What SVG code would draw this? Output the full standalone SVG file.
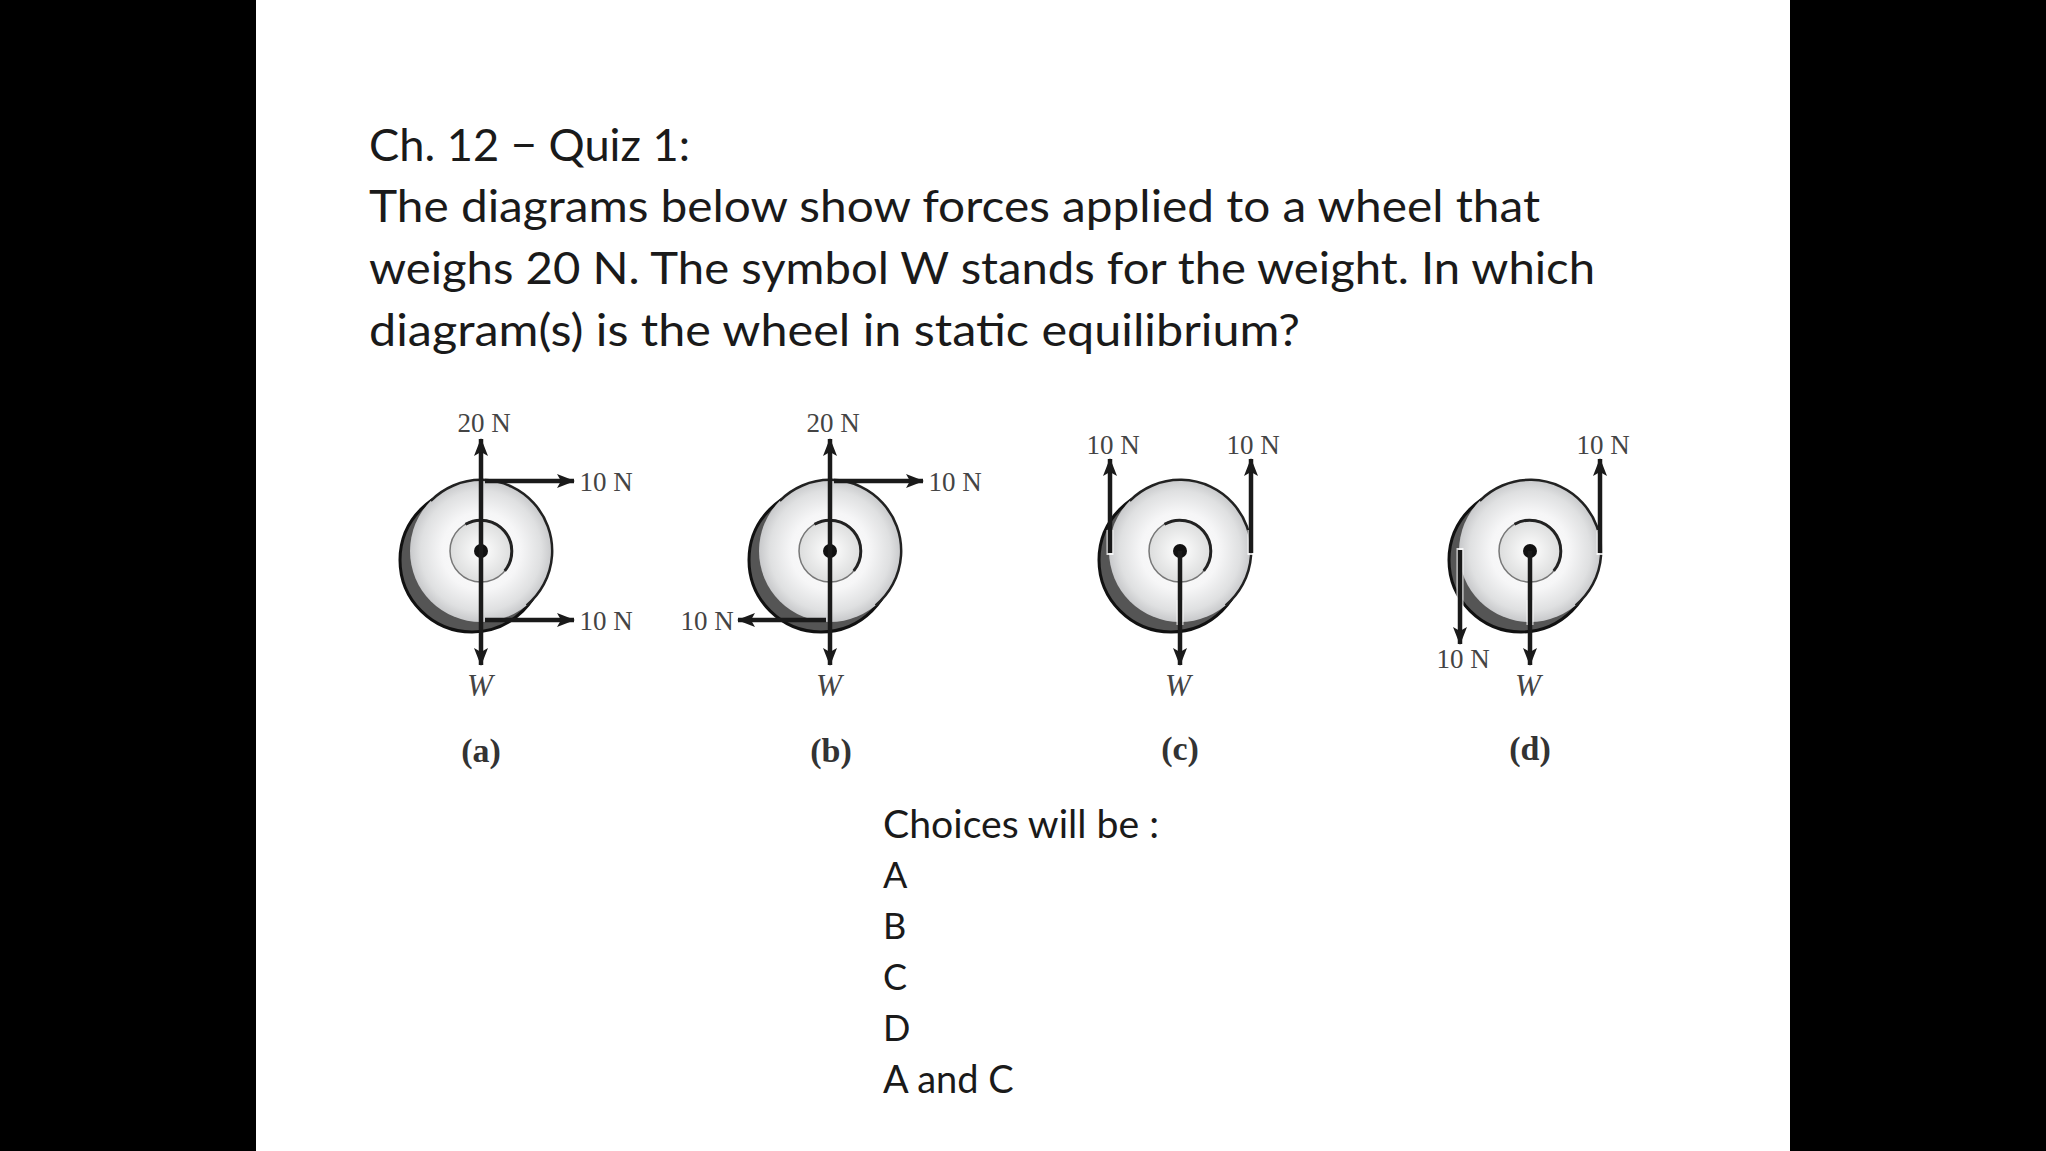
<svg xmlns="http://www.w3.org/2000/svg" xmlns:xlink="http://www.w3.org/1999/xlink" width="2046" height="1151" viewBox="0 0 2046 1151">
<style>
.t{font-family:Lato,"Open Sans",sans-serif;font-size:45px;fill:#1a1a1a}
.c{font-family:Lato,"Open Sans",sans-serif;font-size:38px;fill:#1a1a1a}
.s{font-size:36px}
.l{font-family:"Liberation Serif",serif;font-size:27px;fill:#444;text-anchor:middle}
.w{font-style:italic;font-size:31px}
.p{font-weight:bold;font-size:34px;fill:#333}
.f{stroke:#1a1a1a;stroke-width:4.5;fill:none}
.g{stroke:#fff;stroke-width:7;fill:none;opacity:.8}
.h{fill:#1a1a1a}
</style>
<defs>
<radialGradient id="disc"><stop offset="0" stop-color="#fff"/><stop offset=".55" stop-color="#f6f6f7"/><stop offset=".85" stop-color="#dfe0e1"/><stop offset="1" stop-color="#c8c9cb"/></radialGradient>
<radialGradient id="hub"><stop offset="0" stop-color="#fff"/><stop offset="1" stop-color="#dcdddd"/></radialGradient>
<marker id="ah" viewBox="0 0 18 14" refX="17" refY="7" markerWidth="18" markerHeight="14" markerUnits="userSpaceOnUse" orient="auto"><path d="M0 0L18 7L0 14L4 7Z" class="h"/></marker>
<g id="wheel">
<circle cx="-9" cy="9" r="72" fill="#555" stroke="#111" stroke-width="3"/>
<circle cx="0" cy="0" r="71" fill="url(#disc)"/>
<path d="M-50.2 -50.2A71 71 0 1 1 45.6 54.4" fill="none" stroke="#222" stroke-width="2.5"/>
<circle cx="0" cy="0" r="31" fill="url(#hub)" stroke="#777" stroke-width="1.5"/>
<path d="M-15.5 -26.8A31 31 0 0 1 23.7 19.9" fill="none" stroke="#222" stroke-width="3"/>
<circle cx="0" cy="0" r="7" fill="#111"/>
</g>
</defs>
<rect width="2046" height="1151" fill="#fff"/>
<rect x="0" y="0" width="256" height="1151" fill="#000"/>
<rect x="1790" y="0" width="256" height="1151" fill="#000"/>
<g id="question">
<text class="t" x="369" y="161" textLength="321" lengthAdjust="spacingAndGlyphs">Ch. 12 − Quiz 1:</text>
<text class="t" x="369" y="222" textLength="1171" lengthAdjust="spacingAndGlyphs">The diagrams below show forces applied to a wheel that</text>
<text class="t" x="369" y="284" textLength="1226" lengthAdjust="spacingAndGlyphs">weighs 20 N. The symbol W stands for the weight. In which</text>
<text class="t" x="369" y="346" textLength="931" lengthAdjust="spacingAndGlyphs">diagram(s) is the wheel in static equilibrium?</text>
</g>
<g id="wheel-a"><use xlink:href="#wheel" href="#wheel" x="481" y="551"/></g>
<g id="wheel-b"><use xlink:href="#wheel" href="#wheel" x="830" y="551"/></g>
<g id="wheel-c"><use xlink:href="#wheel" href="#wheel" x="1180" y="551"/></g>
<g id="wheel-d"><use xlink:href="#wheel" href="#wheel" x="1530" y="551"/></g>
<g id="connectors">
<path class="g" d="M1110 555V530M1251 555V530M1460 548V620M1600 555V530M1530 600V625M1180 600V625"/>
<path class="f" marker-end="url(#ah)" d="M481 551V439"/><path class="f" marker-end="url(#ah)" d="M481 551V665"/>
<path class="f" marker-end="url(#ah)" d="M485 481H574"/><path class="f" marker-end="url(#ah)" d="M485 620H574"/>
<path class="f" marker-end="url(#ah)" d="M830 551V439"/><path class="f" marker-end="url(#ah)" d="M830 551V665"/>
<path class="f" marker-end="url(#ah)" d="M834 481H923"/><path class="f" marker-end="url(#ah)" d="M826 620H738"/>
<path class="f" marker-end="url(#ah)" d="M1110 553V459"/><path class="f" marker-end="url(#ah)" d="M1251 553V459"/><path class="f" marker-end="url(#ah)" d="M1180 551V665"/>
<path class="f" marker-end="url(#ah)" d="M1460 550V644"/><path class="f" marker-end="url(#ah)" d="M1600 553V459"/><path class="f" marker-end="url(#ah)" d="M1530 551V665"/>
</g>
<g id="labels-a">
<text class="l" x="484" y="432">20 N</text><text class="l" x="606" y="491">10 N</text><text class="l" x="606" y="630">10 N</text>
<text class="l w" x="480" y="696">W</text><text class="l p" x="481" y="762">(a)</text>
</g>
<g id="labels-b">
<text class="l" x="833" y="432">20 N</text><text class="l" x="955" y="491">10 N</text><text class="l" x="707" y="630">10 N</text>
<text class="l w" x="829" y="696">W</text><text class="l p" x="831" y="762">(b)</text>
</g>
<g id="labels-c">
<text class="l" x="1113" y="454">10 N</text><text class="l" x="1253" y="454">10 N</text>
<text class="l w" x="1178" y="696">W</text><text class="l p" x="1180" y="760">(c)</text>
</g>
<g id="labels-d">
<text class="l" x="1603" y="454">10 N</text><text class="l" x="1463" y="668">10 N</text>
<text class="l w" x="1528" y="696">W</text><text class="l p" x="1530" y="760">(d)</text>
</g>
<g id="choices">
<text class="c" x="883" y="838" textLength="276" lengthAdjust="spacingAndGlyphs">Choices will be :</text>
<text class="c s" x="883" y="888">A</text>
<text class="c s" x="883" y="939">B</text>
<text class="c s" x="883" y="990">C</text>
<text class="c s" x="883" y="1041">D</text>
<text class="c" x="883" y="1093">A and C</text>
</g>
</svg>
